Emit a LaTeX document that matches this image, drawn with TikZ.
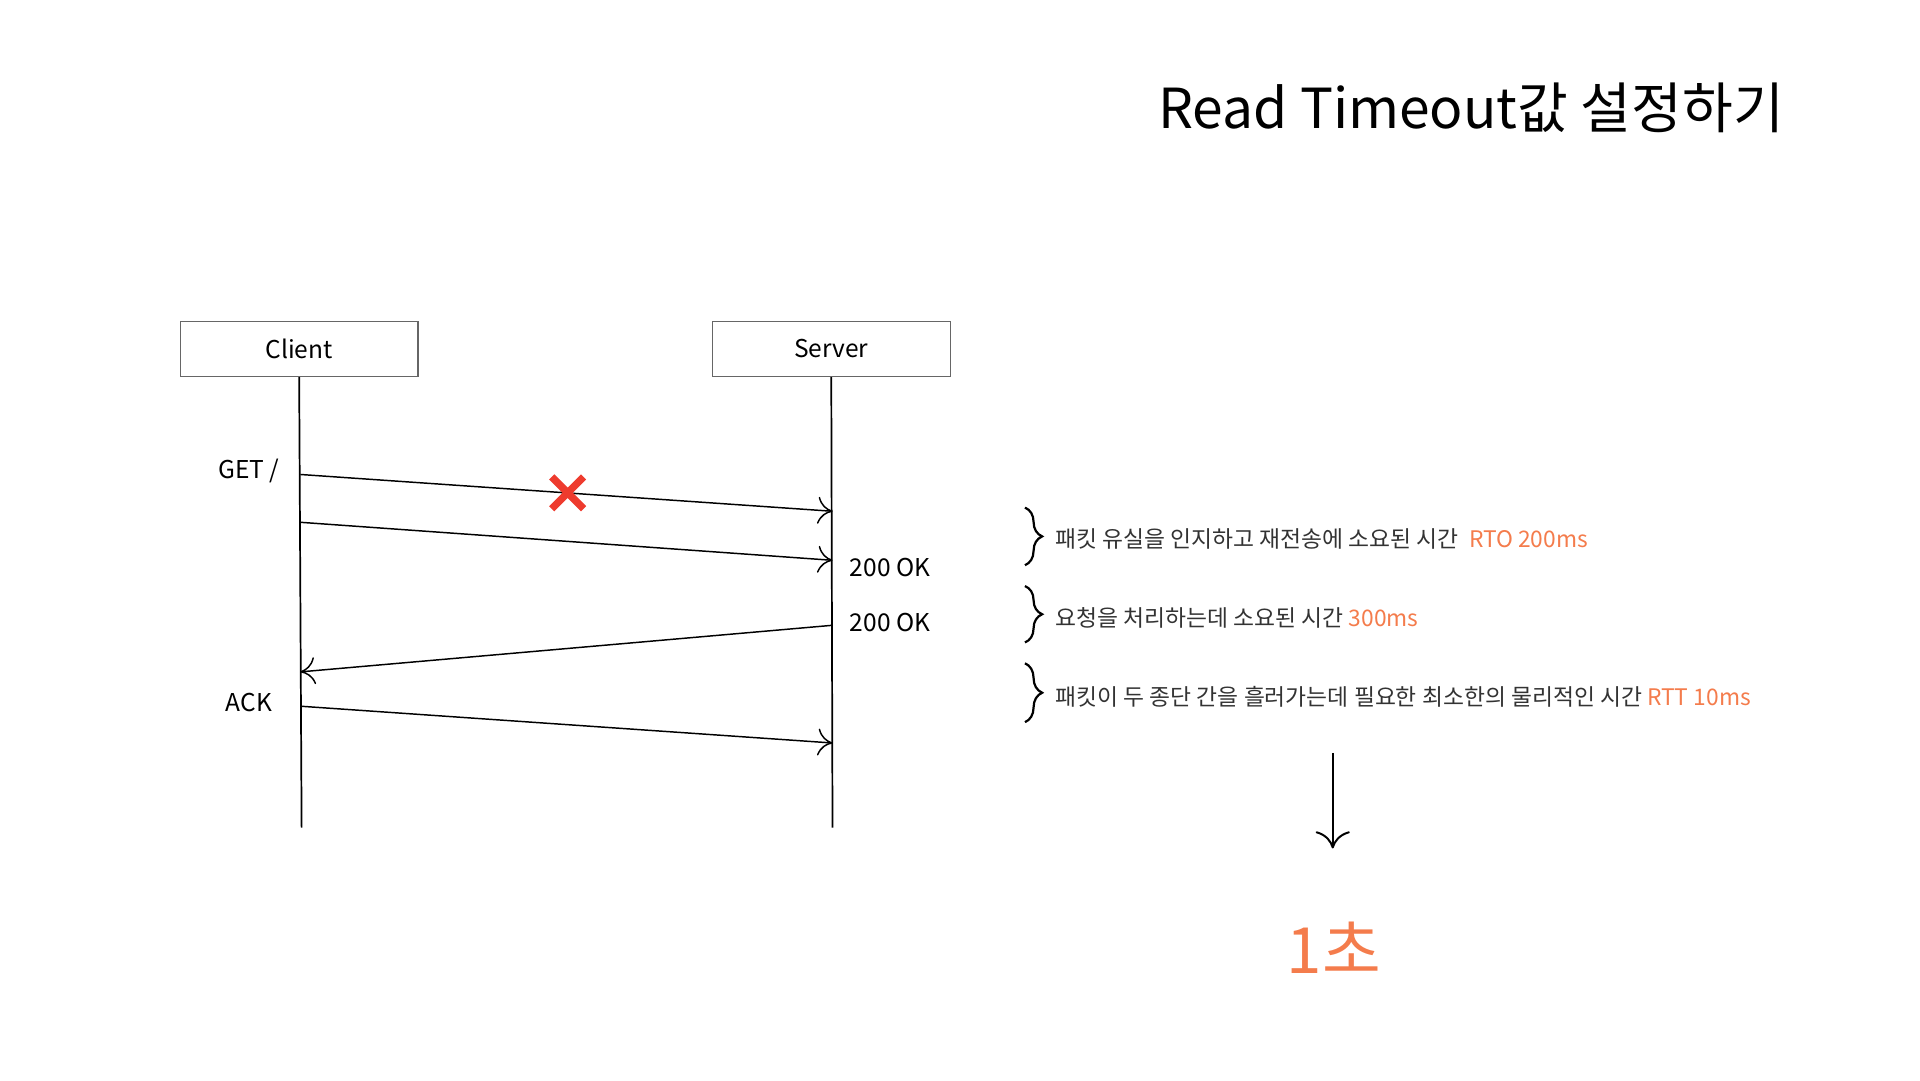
\documentclass[tikz,border=0pt]{standalone}
\usepackage{fontspec}
\setmainfont{Noto Sans CJK KR}[Scale=1]
\usetikzlibrary{decorations.pathreplacing,arrows.meta}
\definecolor{org}{HTML}{F47C4C}
\definecolor{xred}{HTML}{EE3B2E}
\tikzset{box/.style={draw=black!60,line width=0.5pt,minimum width=97pt,minimum height=22.5pt,inner sep=0pt,font=\fontsize{10}{12}\selectfont},
lbl/.style={font=\fontsize{10}{12}\selectfont},
msg/.style={line width=0.6pt,-{To[length=6pt,width=11pt]}},
life/.style={line width=0.7pt},
br/.style={decorate,decoration={brace,amplitude=7pt},line width=0.9pt},
note/.style={anchor=west,font=\fontsize{9.3}{12}\selectfont,text=black!80}}
\begin{document}
\begin{tikzpicture}[x=0.5pt,y=-0.5pt]
\useasboundingbox (0,0) rectangle (1566,881);
\node[anchor=east,font=\fontsize{22.5}{28}\selectfont] (title) at (1462,88) {Read Timeout값 설정하기};
\node[box] (client) at (244,284.5) {Client};
\node[box] (server) at (678,284.5) {Server};
\coordinate (cb) at (246,675);
\coordinate (sb) at (679,675);
\draw[life] (client.south) -- (cb);
\draw[life] (server.south) -- (sb);
\coordinate (a1) at (245,387); \coordinate (b1) at (679,417);
\coordinate (a2) at (245,426); \coordinate (b2) at (679,457);
\coordinate (b3) at (679,510); \coordinate (a3) at (245,548);
\coordinate (a4) at (245,576); \coordinate (b4) at (679,606);
\draw[msg] (a1) -- (b1);
\draw[msg] (a2) -- (b2);
\draw[msg] (b3) -- (a3);
\draw[msg] (a4) -- (b4);
\node[lbl] (get) at (203,384) {GET /};
\node[lbl] (ack) at (203,573) {ACK};
\node[lbl] (ok1) at (726,463) {200 OK};
\node[lbl] (ok2) at (726,508) {200 OK};
\node (xm) at (463,402) {};
\draw[xred,line width=3pt] (450,389) -- (476,415) (476,389) -- (450,415);
\draw[br] (836,414) -- (836,461);
\draw[br] (836,478) -- (836,524);
\draw[br] (836,541) -- (836,589);
\node[note] (n1) at (854,440) {패킷 유실을 인지하고 재전송에 소요된 시간 \ \textcolor{org}{RTO 200ms}};
\node[note] (n2) at (854,504) {요청을 처리하는데 소요된 시간 \textcolor{org}{300ms}};
\node[note] (n3) at (854,568) {패킷이 두 종단 간을 흘러가는데 필요한 최소한의 물리적인 시간 \textcolor{org}{RTT 10ms}};
\coordinate (d0) at (1087,614);
\node[font=\fontsize{26}{30}\selectfont,text=org] (res) at (1088,773) {1초};
\draw[line width=0.8pt,-{To[length=7pt,width=14pt]}] (d0) -- (1087,692);
\end{tikzpicture}
\end{document}
